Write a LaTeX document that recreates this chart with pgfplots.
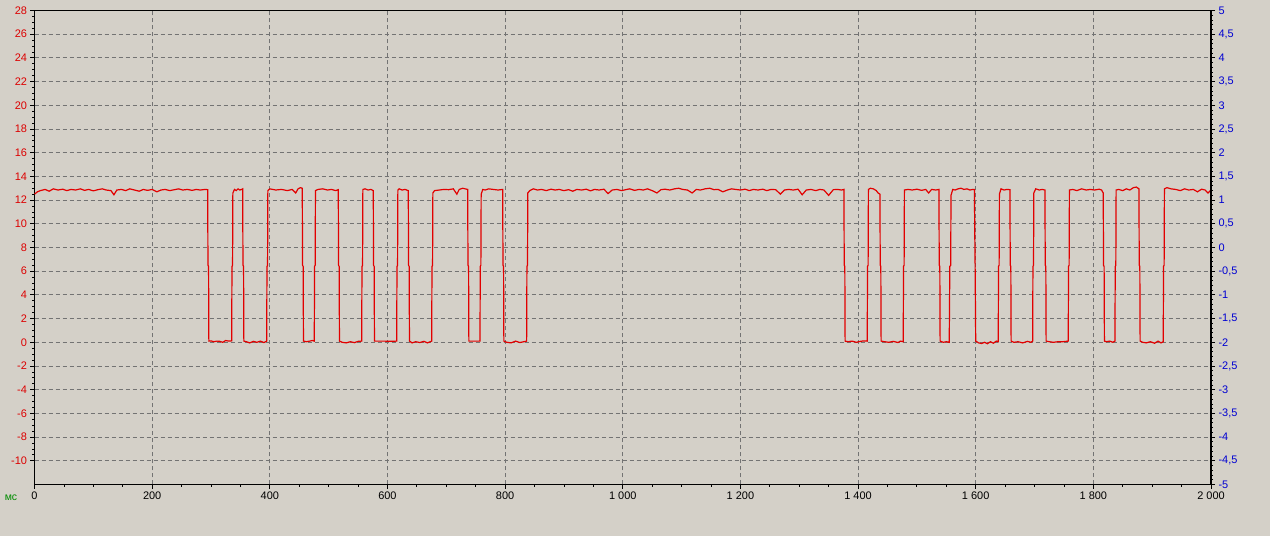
\documentclass[border=0pt]{standalone}
\usepackage{pgfplots}
\pgfplotsset{compat=1.18}
\usepackage{fontspec}
\setmainfont{Liberation Sans}
\definecolor{bg}{RGB}{212,208,200}
\definecolor{sig}{RGB}{226,0,0}
\definecolor{lab}{RGB}{220,0,0}
\definecolor{rlab}{RGB}{0,0,210}
\definecolor{gridc}{RGB}{115,115,115}
\definecolor{msgreen}{RGB}{0,140,0}
\begin{document}
\begin{tikzpicture}
\fill[bg] (0,0) rectangle (1270bp,536bp);
\begin{axis}[
  at={(34.5bp,51.5bp)}, anchor=south west,
  scale only axis, width=1176.5bp, height=474bp,
  xmin=0, xmax=2000, ymin=-12, ymax=28,
  axis line style={line width=1.5bp, black},
  xtick={0,200,400,600,800,1000,1200,1400,1600,1800,2000},
  xticklabels={0,200,400,600,800,{1 000},{1 200},{1 400},{1 600},{1 800},{2 000}},
  ytick={-10,-8,-6,-4,-2,0,2,4,6,8,10,12,14,16,18,20,22,24,26,28},
  yticklabels={-10,-8,-6,-4,-2,0,2,4,6,8,10,12,14,16,18,20,22,24,26,28},
  minor x tick num=3, minor y tick num=3,
  xtick pos=lower, ytick pos=left,
  tick align=outside, major tick length=4bp, minor tick length=2bp,
  tick style={black, line width=0.8bp},
  grid=major,
  major grid style={dash pattern=on 4bp off 3bp, gridc, line width=0.8bp},
  ticklabel style={font=\fontsize{11}{13}\selectfont},
  yticklabel style={text=lab},
  xticklabel style={text=black},
]
\addplot[sig, line width=1.2bp] table {
x y
0 12.5
5 12.7
10 12.8
18 12.9
25 12.75
32 12.95
40 12.85
48 12.92
55 12.8
62 12.9
70 12.85
78 12.95
85 12.82
92 12.9
100 12.78
108 12.88
115 12.95
122 12.85
130 12.8
135 12.45
140 12.85
148 12.9
155 12.8
162 12.95
170 12.85
178 12.75
185 12.9
192 12.82
200 12.9
208 12.7
215 12.85
222 12.9
230 12.8
238 12.88
245 12.95
252 12.85
260 12.9
268 12.82
275 12.9
282 12.85
290 12.9
294.4 12.88
294.9 6.5
295.9 6.4
296.4 0.1
300 0.12
305 0.05
310 0.1
315 0.08
320 0.0
325 0.15
330 0.1
335.2 0.12
335.7 6.4
336.7 6.5
337.2 12.6
340 12.9
343 12.8
346 12.95
349 12.85
352 12.9
353.9 12.95
354.4 6.5
355.4 6.4
355.9 0.1
360 0.05
366 -0.05
372 0.08
378 0.0
384 0.1
390 -0.02
394.7 0.1
395.2 6.4
396.2 6.5
396.7 12.8
400 12.95
410 12.85
420 12.9
430 12.8
438 12.9
444 12.6
448 12.95
452 13.05
455.2 13.0
455.7 6.5
456.7 6.4
457.2 0.1
462 0.05
468 0.1
472 0.15
475.6 0.1
476.1 6.4
477.1 6.5
477.6 12.8
482 12.9
490 12.95
498 12.85
505 12.9
512 12.8
516.4 12.88
516.9 6.5
517.9 6.4
518.4 0.1
523 0.0
530 -0.05
537 0.05
544 -0.03
550 0.08
556.2 0.1
556.7 6.4
557.7 6.5
558.2 12.9
562 12.95
567 12.85
572 12.9
575.9 12.8
576.4 6.5
577.4 6.4
577.9 0.1
585 0.1
595 0.1
605 0.08
615.7 0.1
616.2 6.4
617.2 6.5
617.7 12.85
620 12.95
625 12.85
630 12.9
635.4 12.8
635.9 6.5
636.9 6.4
637.4 0.1
642 -0.05
648 0.05
655 -0.02
662 0.08
668 -0.05
675.2 0.1
675.7 6.4
676.7 6.5
677.2 12.6
680 12.8
688 12.85
696 12.9
704 12.88
712 12.95
718 12.5
722 12.9
728 13.0
732 12.95
736.4 12.9
736.9 6.5
737.9 6.4
738.4 0.1
745 0.1
752 0.1
757.3 0.1
757.8 6.4
758.8 6.5
759.3 12.5
762 12.9
766 12.85
772 12.95
780 12.9
788 12.85
795.9 12.9
796.4 6.5
797.4 6.4
797.9 0.1
803 0.0
810 -0.05
818 0.1
825 -0.02
832 0.05
836.6 0.1
837.1 6.4
838.1 6.5
838.6 12.6
842 12.8
848 12.95
855 12.85
862 12.9
870 12.8
878 12.92
885 12.85
892 12.9
900 12.8
908 12.88
915 12.75
922 12.9
930 12.85
938 12.92
945 12.78
952 12.9
960 12.85
968 12.92
975 12.55
982 12.85
990 12.9
998 12.8
1005 12.88
1012 12.95
1020 12.82
1028 12.9
1035 12.85
1042 12.95
1050 12.8
1058 12.6
1065 12.88
1072 12.92
1080 12.85
1088 12.95
1095 13.0
1102 12.9
1110 12.85
1118 12.6
1125 12.9
1132 12.85
1140 12.95
1148 13.0
1155 12.88
1162 12.9
1170 12.7
1178 12.85
1185 12.95
1192 12.9
1200 12.85
1208 12.92
1215 12.8
1222 12.9
1230 12.85
1238 12.92
1245 12.8
1252 12.9
1260 12.88
1268 12.5
1275 12.85
1282 12.9
1290 12.85
1298 12.92
1305 12.45
1312 12.85
1320 12.9
1328 12.8
1335 12.9
1342 12.85
1350 12.4
1358 12.88
1365 12.9
1372 12.85
1376 12.9
1376.5 6.5
1377.5 6.4
1378 0.1
1383 0.05
1390 0.1
1397 0.0
1404 0.08
1410 0.12
1415.6 0.1
1416.1 6.4
1417.1 6.5
1417.6 12.9
1421 13.0
1426 12.95
1431 12.8
1434 12.6
1437.2 12.5
1437.7 6.5
1438.7 6.4
1439.2 0.1
1445 0.05
1452 0.0
1460 0.08
1468 -0.02
1472 0.1
1476.8 0.05
1477.3 6.4
1478.3 6.5
1478.8 12.85
1485 12.9
1492 12.85
1500 12.92
1508 12.82
1515 12.9
1520 12.6
1525 12.9
1532 12.85
1537.5 12.9
1538 6.5
1539 6.4
1539.5 0.1
1545 0.0
1550 0.05
1555 0.0
1556 6.4
1557.5 6.5
1558 12.4
1561 12.9
1565 12.85
1570 12.95
1575 13.0
1580 12.9
1585 12.95
1590 12.85
1595 12.9
1597.8 12.9
1598.3 9.8
1599 6.5
1600 0.1
1605 -0.05
1610 -0.1
1615 0.0
1620 -0.12
1625 0.05
1630 -0.08
1635 0.1
1638.3 0.05
1638.8 6.4
1639.8 6.5
1640.3 12.5
1643 12.95
1648 12.85
1653 12.9
1658.2 12.88
1658.7 6.5
1659.7 6.4
1660.2 0.1
1665 0.0
1672 0.05
1680 -0.05
1688 0.08
1694 0.0
1696.8 0.1
1697.3 6.4
1698.3 6.5
1698.8 12.6
1702 12.95
1708 12.85
1713 12.9
1717.7 12.85
1718.2 6.5
1719.2 6.4
1719.7 0.1
1725 0.05
1732 0.0
1740 0.05
1748 0.05
1757.3 0.1
1757.8 6.4
1758.8 6.5
1759.3 12.85
1765 12.9
1772 12.8
1780 12.95
1788 12.85
1795 12.9
1802 12.85
1810 12.92
1814 12.85
1816.8 12.6
1817.3 6.5
1818.3 6.4
1818.8 0.1
1822 0.05
1828 0.1
1833 0.0
1836.7 0.1
1837.2 6.4
1838.2 6.5
1838.7 12.85
1843 12.9
1850 12.8
1856 12.95
1862 12.85
1868 13.05
1873 13.1
1877.5 12.95
1878 6.5
1879 6.4
1879.5 0.1
1884 0.0
1890 -0.05
1897 0.05
1904 -0.08
1910 0.1
1915 -0.05
1918.8 0.05
1919.3 6.4
1920.3 6.5
1920.8 12.95
1925 13.05
1932 12.95
1940 12.9
1948 12.8
1955 12.95
1962 12.85
1970 12.9
1977 12.7
1984 12.92
1990 12.85
1995 12.6
2000 12.85
};
\end{axis}
\begin{axis}[
  at={(34.5bp,51.5bp)}, anchor=south west,
  scale only axis, width=1176.5bp, height=474bp,
  xmin=0, xmax=2000, ymin=-5, ymax=5,
  axis x line=none, axis y line*=right,
  axis line style={line width=1.5bp, black, -},
  ytick={-5,-4.5,-4,-3.5,-3,-2.5,-2,-1.5,-1,-0.5,0,0.5,1,1.5,2,2.5,3,3.5,4,4.5,5},
  yticklabels={-5,{-4,5},-4,{-3,5},-3,{-2,5},-2,{-1,5},-1,{-0,5},0,{0,5},1,{1,5},2,{2,5},3,{3,5},4,{4,5},5},
  minor y tick num=4,
  tick align=outside, major tick length=4bp, minor tick length=2bp,
  tick style={black, line width=0.8bp},
  ticklabel style={font=\fontsize{11}{13}\selectfont},
  yticklabel style={text=rlab},
]
\end{axis}
\node[text=msgreen, font=\fontsize{10.5}{12}\selectfont] at (11bp,38bp) {мс};
\end{tikzpicture}
\end{document}
